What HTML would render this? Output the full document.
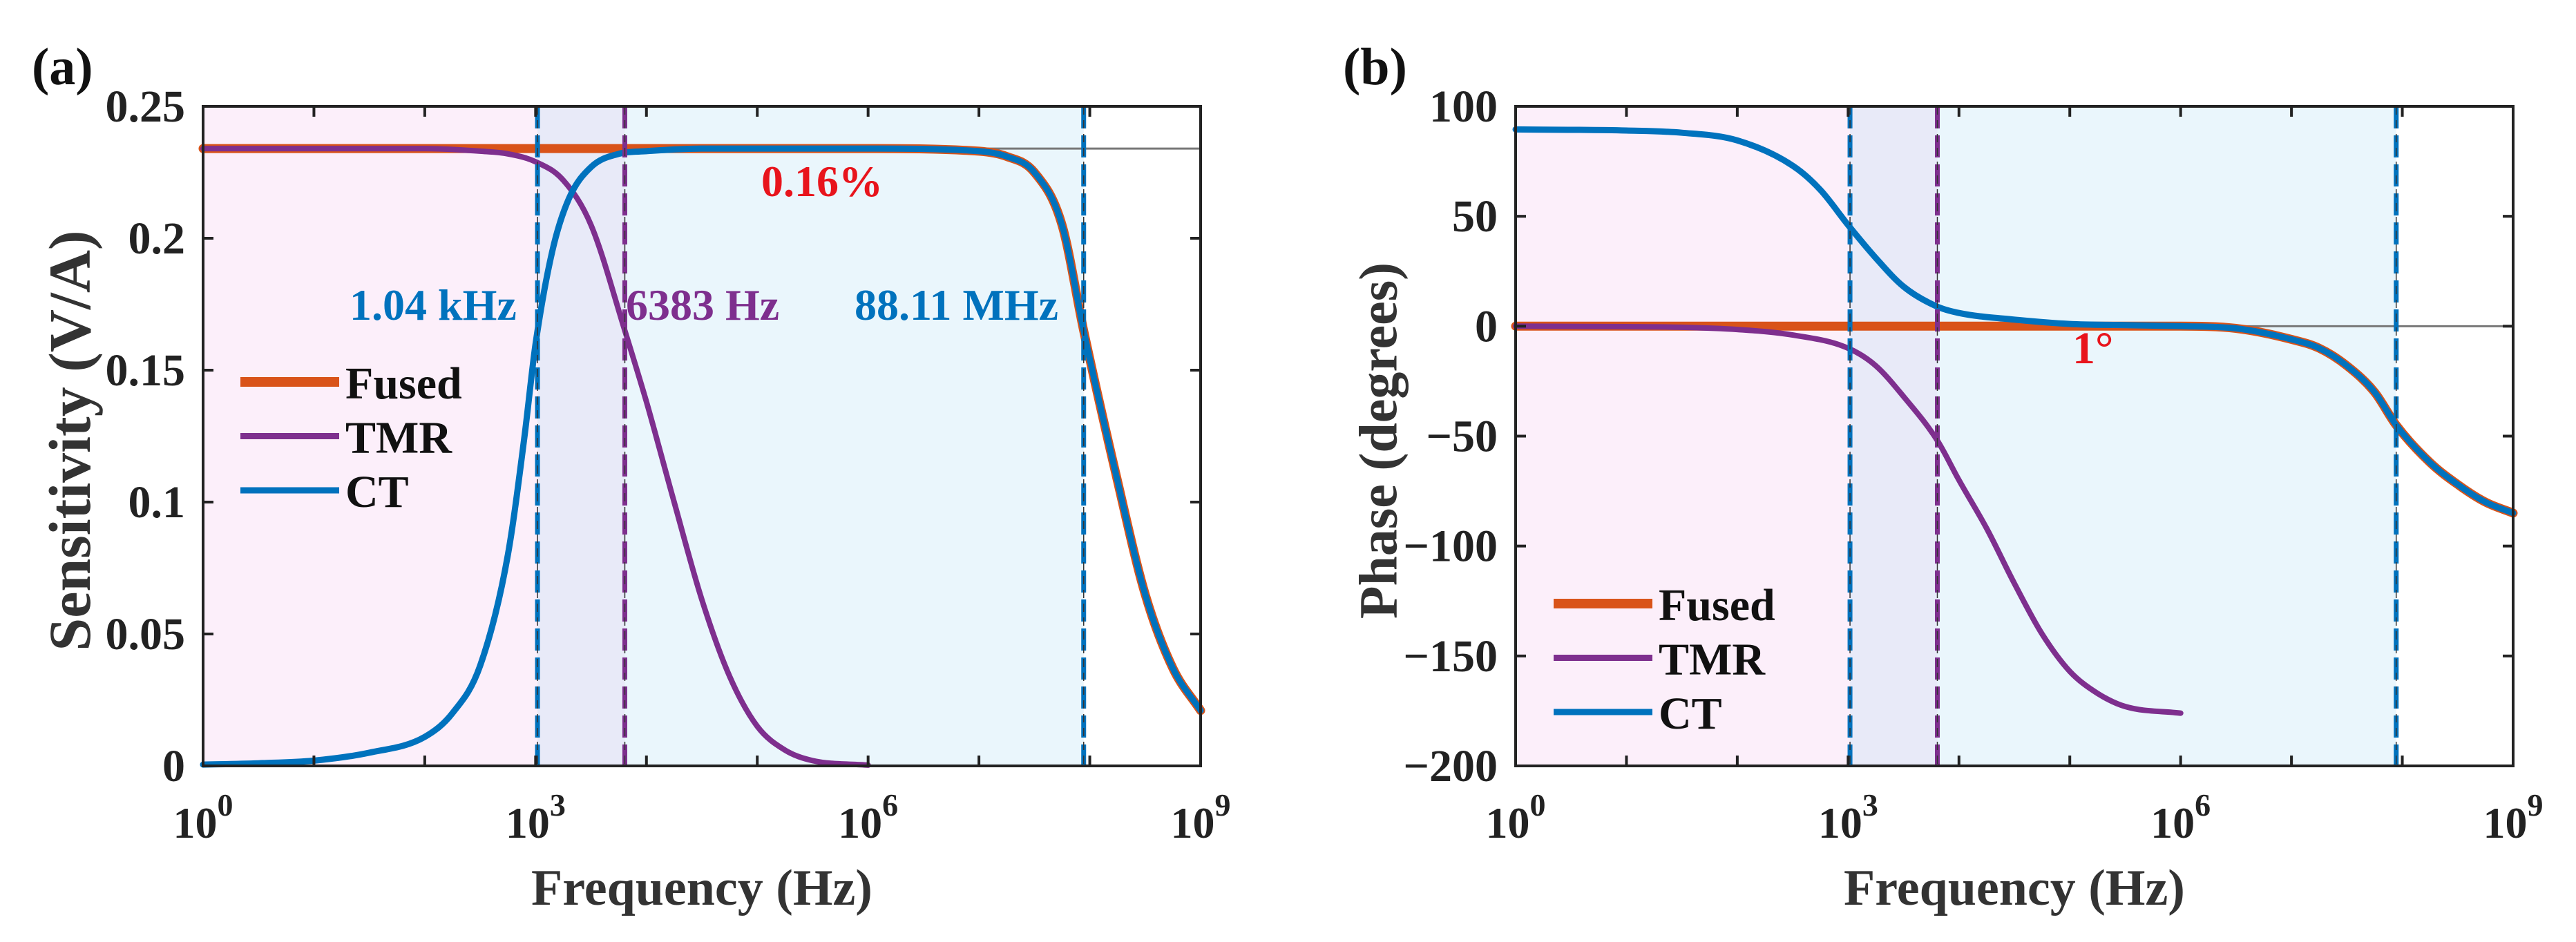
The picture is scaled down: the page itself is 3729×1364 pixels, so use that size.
<!DOCTYPE html>
<html><head><meta charset="utf-8"><style>
html,body{margin:0;padding:0;background:#fff;}
svg{display:block;font-family:"Liberation Serif",serif;font-weight:bold;}
</style></head><body>
<svg id="fig" width="3729" height="1364" viewBox="0 0 3729 1364" xmlns="http://www.w3.org/2000/svg"></svg>
<script>
// ---- data ----
const ctMagLogF = [0,0.5,1,1.5,2,2.25,2.5,2.75,2.9,3,3.15,3.3,3.5,3.75,4,4.5,5,6,7,7.25,7.5,7.75,7.945,8.25,8.5,8.75,9];
const ctMag = [0.0005,0.001,0.002,0.005,0.011,0.02,0.038,0.08,0.125,0.16,0.195,0.215,0.227,0.232,0.233,0.234,0.234,0.234,0.233,0.231,0.225,0.205,0.165,0.108,0.065,0.037,0.021];
const tmrMagLogF = [0,1,2,2.5,2.75,3,3.25,3.5,3.805,4,4.25,4.5,4.75,5,5.25,5.5,6];
const tmrMag = [0.234,0.234,0.234,0.233,0.232,0.229,0.222,0.205,0.165,0.138,0.1,0.063,0.034,0.015,0.006,0.002,0.0003];
const fusedMagLogF = [0,1,2,3,4,5,6,7,7.25,7.5,7.75,7.945,8.25,8.5,8.75,9];
const fusedMag = [0.234,0.234,0.234,0.234,0.234,0.234,0.234,0.233,0.231,0.225,0.205,0.165,0.108,0.065,0.037,0.021];
const ctPhLogF = [0,1,1.5,2,2.5,2.75,3,3.25,3.5,3.8,4,4.5,5,5.5,6,6.5,7,7.25,7.5,7.75,7.945,8.25,8.5,8.75,9];
const ctPh = [89.5,89,88,84.5,73,62,46,31,18,9,6,3,1,0.5,0,-1,-6,-10,-18,-30,-45,-62,-72,-80,-85];
const tmrPhLogF = [0,1,1.5,2,2.5,3,3.25,3.5,3.805,4,4.25,4.5,4.75,5,5.25,5.5,6];
const tmrPh = [0,-0.2,-0.5,-1.5,-4,-10,-18,-32,-52,-70,-92,-117,-140,-157,-167,-173,-176];
const fusedPhLogF = [0,1,2,3,4,5,6,6.5,7,7.25,7.5,7.75,7.945,8.25,8.5,8.75,9];
const fusedPh = [0,0,0,0,0,0,0,-1,-6,-10,-18,-30,-45,-62,-72,-80,-85];
const cutoffsLog = [3.017, 3.805, 7.945];
const magTicks = [0,0.05,0.1,0.15,0.2,0.25];
const magTickLabels = ["0","0.05","0.1","0.15","0.2","0.25"];
const phTicks = [-200,-150,-100,-50,0,50,100];
const phTickLabels = ["\u2212200","\u2212150","\u2212100","\u221250","0","50","100"];
const xLabelExps = [0,3,6,9];

const C_F="#D95319",C_T="#7E2F8E",C_C="#0072BD";
const NS="http://www.w3.org/2000/svg";
const svg=document.getElementById('fig');
function mk(tag,attrs,parent){const e=document.createElementNS(NS,tag);for(const k in attrs)e.setAttribute(k,attrs[k]);(parent||svg).appendChild(e);return e;}

function smoothPath(px,py){
  const n=px.length;const m=new Array(n);const d=[];
  for(let i=0;i<n-1;i++)d.push((py[i+1]-py[i])/(px[i+1]-px[i]));
  m[0]=d[0];m[n-1]=d[n-2];
  for(let i=1;i<n-1;i++){m[i]=(d[i-1]*d[i]<=0)?0:(d[i-1]+d[i])/2;}
  for(let i=0;i<n-1;i++){if(d[i]===0){m[i]=0;m[i+1]=0;}else{const a=m[i]/d[i],b=m[i+1]/d[i],s=a*a+b*b;if(s>9){const t=3/Math.sqrt(s);m[i]=t*a*d[i];m[i+1]=t*b*d[i];}}}
  let s='M'+px[0].toFixed(1)+','+py[0].toFixed(1);
  for(let i=0;i<n-1;i++){const h=(px[i+1]-px[i])/3;
    s+=` C${(px[i]+h).toFixed(1)},${(py[i]+m[i]*h).toFixed(1)} ${(px[i+1]-h).toFixed(1)},${(py[i+1]-m[i+1]*h).toFixed(1)} ${px[i+1].toFixed(1)},${py[i+1].toFixed(1)}`;}
  return s;
}

function panel(cfg){
  const g=mk('g',{});
  
  
  const X=l=>cfg.x0+(cfg.x1-cfg.x0)*l/9;
  const Y=v=>cfg.y1-(cfg.y1-cfg.y0)*(v-cfg.ymin)/(cfg.ymax-cfg.ymin);
  const bands=[[0,cutoffsLog[0],"#FCEFFA"],[cutoffsLog[0],cutoffsLog[1],"#E8EAF8"],[cutoffsLog[1],cutoffsLog[2],"#EAF6FC"]];
  bands.forEach((b,i)=>{const r=mk('rect',{x:X(b[0]),y:cfg.y0,width:X(b[1])-X(b[0]),height:cfg.y1-cfg.y0,fill:b[2]},g);
    
    });
  const rl=mk('line',{x1:cfg.x0,x2:cfg.x1,y1:Y(cfg.ref),y2:Y(cfg.ref),stroke:"#777",'stroke-width':3},g);
  
  
  function series(lx,ly,col,w,name){
    const d=smoothPath(lx.map(X),ly.map(Y));
    const p=mk('path',{d:d,fill:'none',stroke:col,'stroke-width':w,'stroke-linejoin':'round','stroke-linecap':'round'},g);
    
    
  }
  series(cfg.fx,cfg.fy,C_F,13,'fused-curve');
  series(cfg.tx,cfg.ty,C_T,8,'tmr-curve');
  series(cfg.cx,cfg.cy,C_C,9,'ct-curve');
  [C_C,C_T,C_C].forEach((col,i)=>{
    const xx=X(cutoffsLog[i]);
    const a=mk('line',{x1:xx,x2:xx,y1:cfg.y0,y2:cfg.y1,stroke:col,'stroke-width':7,'stroke-dasharray':'32 10'},g);
    
    
    mk('line',{x1:xx,x2:xx,y1:cfg.y0,y2:cfg.y1,stroke:'#333','stroke-width':1.5,'stroke-dasharray':'12 8'},g);
  });
  const bx=mk('rect',{x:cfg.x0,y:cfg.y0,width:cfg.x1-cfg.x0,height:cfg.y1-cfg.y0,fill:'none',stroke:'#222','stroke-width':4},g);
  
  
  for(let l=0;l<=9;l++){const xx=X(l);
    mk('line',{x1:xx,x2:xx,y1:cfg.y1,y2:cfg.y1-15,stroke:'#222','stroke-width':4},g);
    mk('line',{x1:xx,x2:xx,y1:cfg.y0,y2:cfg.y0+15,stroke:'#222','stroke-width':4},g);}
  cfg.yt.forEach((v,i)=>{const yy=Y(v);
    mk('line',{x1:cfg.x0,x2:cfg.x0+15,y1:yy,y2:yy,stroke:'#222','stroke-width':4},g);
    mk('line',{x1:cfg.x1,x2:cfg.x1-15,y1:yy,y2:yy,stroke:'#222','stroke-width':4},g);
    const t=mk('text',{x:cfg.x0-26,y:yy+22,'text-anchor':'end','font-size':66,fill:'#222'},g);
    t.textContent=cfg.ytl[i];
    
    
  });
  xLabelExps.forEach(e=>{
    const t=mk('text',{x:X(e),y:1213,'text-anchor':'middle','font-size':64,fill:'#222'},g);
    
    
    const a=mk('tspan',{},t);a.textContent='10';
    const b=mk('tspan',{dy:-32,'font-size':46},t);b.textContent=String(e);
  });
  const xt=mk('text',{x:(cfg.x0+cfg.x1)/2,y:1310,'text-anchor':'middle','font-size':74,fill:'#333'},g);
  xt.textContent='Frequency (Hz)';
  
  
  const yt=mk('text',{x:0,y:0,'text-anchor':'middle','font-size':cfg.ylsize,fill:'#333',transform:`translate(${cfg.ylx},638) rotate(-90)`,'dominant-baseline':'central'},g);
  yt.textContent=cfg.ylabel;
  
  
  const pl=mk('text',{x:cfg.plx,y:122,'font-size':76,fill:'#111'},g);
  pl.textContent=cfg.plabel;
  
  
  const lg=mk('g',{},g);
  
  
  [['Fused',C_F,14],['TMR',C_T,9],['CT',C_C,9]].forEach((it,i)=>{
    const yy=cfg.legY+i*78.5;
    const ln=mk('line',{x1:cfg.legX,x2:cfg.legX+143,y1:yy,y2:yy,stroke:it[1],'stroke-width':it[2]},lg);
    
    
    const t=mk('text',{x:cfg.legX+152,y:yy+24,'font-size':66,fill:'#111'},lg);
    t.textContent=it[0];
    
    
  });
  return {g,X,Y};
}

const A=panel({name:'sensitivity-panel',x0:294,x1:1738,y0:154,y1:1109,ymin:0,ymax:0.25,ref:0.234,
  fx:fusedMagLogF,fy:fusedMag,tx:tmrMagLogF,ty:tmrMag,cx:ctMagLogF,cy:ctMag,
  yt:magTicks,ytl:magTickLabels,ylabel:'Sensitivity (V/A)',ylsize:86,ylx:101,plabel:'(a)',plx:46,legX:348,legY:553});
const B=panel({name:'phase-panel',x0:2194,x1:3638,y0:154,y1:1109,ymin:-200,ymax:100,ref:0,
  fx:fusedPhLogF,fy:fusedPh,tx:tmrPhLogF,ty:tmrPh,cx:ctPhLogF,cy:ctPh,
  yt:phTicks,ytl:phTickLabels,ylabel:'Phase (degrees)',ylsize:78,ylx:1995,plabel:'(b)',plx:1944,legX:2249,legY:874});

function ann(g,x,y,txt,col,name,size){
  const t=mk('text',{x:x,y:y,'font-size':size||64,fill:col},g);
  t.textContent=txt;
  
  
}
ann(A.g,506,463,'1.04 kHz',C_C,'cutoff-label-ct-low');
ann(A.g,906,463,'6383 Hz',C_T,'cutoff-label-tmr');
ann(A.g,1237,463,'88.11 MHz',C_C,'cutoff-label-ct-high');
ann(A.g,1102,284,'0.16%','#E8141C','error-label-magnitude');
ann(B.g,3000,526,'1°','#E8141C','error-label-phase',66);
</script>
</body></html>
